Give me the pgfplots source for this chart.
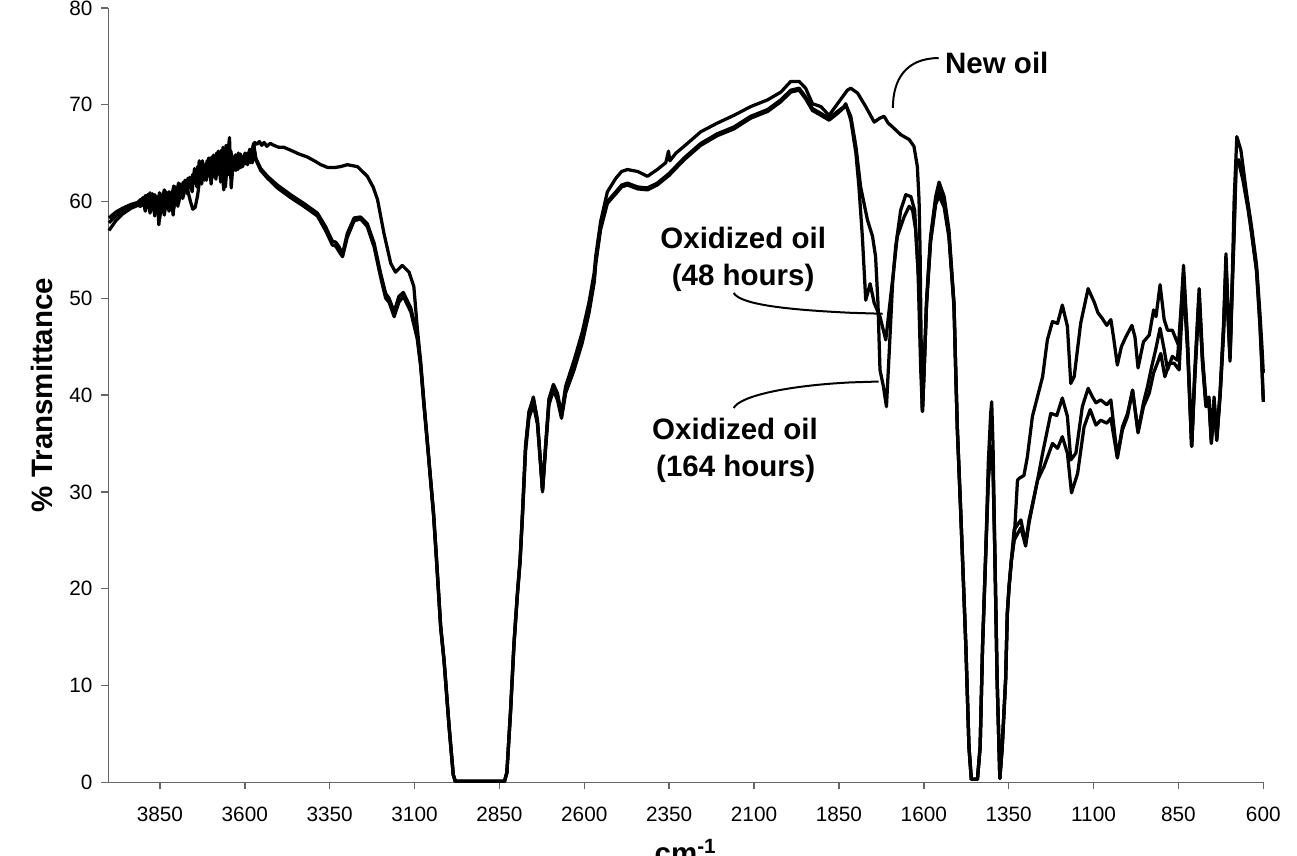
\documentclass[border=0pt]{standalone}
\usepackage{fontspec}
\setmainfont{Liberation Sans}
\usepackage{pgfplots}
\pgfplotsset{compat=1.18}
\begin{document}
\begin{tikzpicture}
\begin{axis}[
  scale only axis, width=462pt, height=309.76pt,
  xmin=600, xmax=4002, ymin=0, ymax=80,
  x dir=reverse,
  axis x line*=bottom, axis y line*=left,
  axis line style={draw=black!60, line width=0.6pt},
  xtick={600,850,...,3850}, ytick={0,10,...,80},
  tick align=outside, major tick length=2.8pt,
  tick style={draw=black!60, line width=0.6pt},
  xticklabel style={yshift=-3.7pt},
  ticklabel style={font=\fontsize{8.3}{10}\selectfont},
  /pgf/number format/1000 sep={},
  /pgf/number format/assume math mode=true,
  xlabel={cm\textsuperscript{-1}},
  xlabel style={at={(axis description cs:0.5,-0.1055)}, anchor=base, font=\bfseries\fontsize{11.8}{14}\selectfont},
  ylabel={\% Transmittance},
  ylabel style={at={(axis description cs:-0.0574,0.5)}, anchor=center, font=\bfseries\fontsize{11.8}{14}\selectfont},
  clip=false,
]
% New oil
\addplot[black, line width=1.3pt, line join=round, no markers] coordinates {
(4000,58.3) (3980,58.9) (3960,59.3) (3935,59.7) (3915,59.9)
(3907,60.2) (3900,59.6) (3893,60.6) (3886,59.8) (3879,60.9) (3872,59.9) (3865,60.7) (3858,59.6) (3851,60.9) (3844,60.1) (3837,61.2) (3830,60.3) (3823,61.0) (3816,60.4) (3809,61.6) (3802,60.7) (3795,61.9) (3788,61.0) (3781,62.0) (3774,61.3) (3767,62.4) (3760,61.7) (3753,62.8) (3746,62.0) (3739,63.6) (3732,62.6) (3725,64.2) (3718,63.0) (3711,63.8) (3704,62.9) (3697,64.3) (3690,63.1) (3683,64.9) (3676,63.4) (3669,65.3) (3662,63.6) (3655,65.8) (3648,63.8) (3641,65.2) (3634,63.6) (3627,64.8) (3620,63.9) (3613,64.9) (3606,64.1) (3599,65.0) (3592,64.4) (3585,65.4) (3578,64.7) (3571,66.1) (3564,65.9) (3557,66.2) (3550,65.8) (3543,66.1) (3535,65.7) (3525,66.0) (3514,65.8) (3500,65.6) (3485,65.6) (3465,65.3) (3440,64.9) (3416,64.6) (3395,64.2) (3376,63.8) (3355,63.5) (3337,63.5) (3318,63.6) (3298,63.8) (3268,63.6) (3239,62.6) (3222,61.5) (3209,60.2) (3190,56.7) (3170,53.6) (3156,52.7) (3136,53.4) (3116,52.7) (3102,51.2) (3092,47.0) (3082,43.5) (3072,39.2) (3061,34.7) (3044,27.8) (3036,23.5) (3023,16.1) (3013,12.6) (2998,5.7) (2986,0.8) (2980,0.1) (2835,0.1) (2828,1.0) (2817,7.5) (2807,14.4) (2797,19.5) (2789,23.0) (2782,27.8) (2773,34.7) (2763,38.3) (2750,39.6) (2738,37.4) (2728,32.6) (2723,30.2) (2714,34.7) (2704,39.6) (2691,41.1) (2679,40.2) (2667,38.0) (2655,40.9) (2630,43.6) (2606,46.5) (2586,49.6) (2571,52.6) (2566,54.4) (2552,57.9) (2532,61.0) (2507,62.4) (2490,63.1) (2473,63.3) (2443,63.1) (2414,62.6) (2385,63.3) (2360,64.0) (2352,65.2) (2348,64.2) (2330,65.0) (2306,65.7) (2257,67.2) (2208,68.1) (2159,68.9) (2110,69.8) (2060,70.5) (2021,71.3) (1992,72.4) (1967,72.4) (1948,71.7) (1928,70.1) (1903,69.8) (1879,68.9) (1854,70.1) (1825,71.5) (1815,71.7) (1795,71.2) (1771,69.8) (1746,68.2) (1730,68.6) (1717,68.8) (1705,68.1) (1692,67.7) (1668,66.9) (1643,66.4) (1629,65.7) (1619,63.6) (1614,60.2) (1611,55.0) (1608,46.0) (1604,38.3) (1599,42.6) (1592,49.5) (1587,52.6) (1580,56.4) (1565,60.5) (1555,62.0) (1540,60.5) (1526,57.1) (1511,49.5) (1506,42.6) (1501,36.4) (1491,27.8) (1476,14.0) (1467,3.7) (1460,0.3) (1442,0.3) (1434,3.7) (1427,14.0) (1417,24.3) (1410,33.0) (1403,38.1) (1400,39.3) (1396,34.7) (1391,24.3) (1384,10.6) (1376,0.4) (1369,3.7) (1359,10.6) (1354,17.5) (1349,20.2) (1342,23.0) (1334,25.0) (1324,31.2) (1319,31.4) (1305,31.7) (1295,33.6) (1280,37.8) (1250,41.9) (1236,45.7) (1221,47.6) (1206,47.4) (1192,49.3) (1177,47.1) (1167,41.2) (1157,41.9) (1138,47.4) (1116,51.0) (1098,49.6) (1087,48.5) (1074,47.9) (1061,47.2) (1049,47.8) (1040,45.7) (1030,43.1) (1018,45.0) (1005,46.0) (987,47.2) (978,46.0) (969,42.8) (953,45.5) (936,46.2) (923,48.8) (916,48.1) (904,51.4) (892,47.8) (882,46.7) (868,46.7) (848,45.0) (835,53.4) (823,45.7) (811,34.7) (802,42.3) (789,51.0) (779,44.0) (769,39.5) (760,39.8) (753,35.4) (745,39.8) (737,35.7) (727,40.5) (717,47.4) (710,54.6) (704,49.1) (698,44.0) (691,52.6) (686,60.0) (678,66.7) (666,65.3) (650,61.0) (635,57.5) (620,53.5) (610,48.5) (604,45.0) (600,42.3)
};
% Oxidized oil 48 hours
\addplot[black, line width=1.3pt, line join=round, no markers] coordinates {
(4000,57.8) (3980,58.5) (3960,59.0) (3935,59.5) (3915,59.8)
(3907,59.9) (3900,60.4) (3893,59.5) (3886,60.7) (3879,59.2) (3872,60.8) (3865,58.9) (3858,60.5) (3853,57.6) (3846,60.3) (3839,59.0) (3832,61.0) (3825,59.4) (3818,60.9) (3811,58.6) (3804,61.5) (3797,59.5) (3790,61.8) (3783,60.3) (3776,62.2) (3769,60.8) (3762,62.5) (3755,61.0) (3748,63.4) (3741,61.5) (3734,64.2) (3727,61.8) (3720,63.8) (3713,62.2) (3706,64.5) (3699,61.8) (3692,64.8) (3685,62.3) (3678,65.2) (3671,62.0) (3664,65.6) (3657,61.5) (3650,64.8) (3645,66.6) (3640,61.4) (3633,64.6) (3626,63.2) (3619,65.0) (3612,63.5) (3605,64.6) (3598,63.9) (3591,65.0) (3584,64.0) (3577,65.5) (3574,66.0) (3568,64.5) (3553,63.4) (3533,62.6) (3504,61.7) (3465,60.7) (3426,59.8) (3386,58.8) (3362,57.4) (3342,55.9) (3332,55.8) (3322,55.3) (3312,54.6) (3298,56.7) (3278,58.3) (3259,58.4) (3239,57.7) (3219,55.7) (3200,52.6) (3185,50.5) (3175,50.0) (3160,48.6) (3146,50.2) (3133,50.6) (3111,49.0) (3092,46.2) (3082,43.2) (3072,39.0) (3061,34.7) (3044,27.8) (3036,23.5) (3023,16.1) (3013,12.6) (2998,5.7) (2986,0.8) (2980,0.1) (2835,0.1) (2828,1.0) (2817,7.5) (2807,14.4) (2797,19.5) (2789,23.0) (2782,27.8) (2773,34.7) (2763,38.1) (2750,39.8) (2738,37.4) (2728,32.6) (2723,30.2) (2714,34.7) (2704,39.5) (2691,40.9) (2679,39.8) (2667,37.8) (2655,40.5) (2630,42.9) (2606,45.7) (2586,48.8) (2571,51.9) (2566,53.9) (2552,57.4) (2532,60.0) (2507,61.0) (2490,61.7) (2473,61.9) (2443,61.5) (2414,61.4) (2385,61.9) (2350,62.9) (2306,64.5) (2257,66.0) (2208,67.0) (2159,67.7) (2110,68.8) (2060,69.5) (2021,70.5) (1992,71.5) (1967,71.7) (1948,70.8) (1928,69.6) (1903,69.1) (1879,68.6) (1854,69.3) (1835,69.8) (1830,70.1) (1815,68.4) (1800,65.0) (1791,61.5) (1781,56.4) (1771,49.8) (1758,51.5) (1746,49.5) (1729,48.1) (1712,45.7) (1702,48.8) (1692,51.9) (1678,56.4) (1658,58.4) (1643,59.5) (1633,59.1) (1624,57.1) (1614,51.2) (1607,42.6) (1604,38.4) (1599,42.6) (1592,49.5) (1587,52.3) (1580,56.0) (1565,60.0) (1555,61.2) (1540,59.8) (1526,56.6) (1511,49.3) (1506,42.6) (1501,36.4) (1491,27.8) (1476,14.0) (1467,3.7) (1460,0.3) (1442,0.3) (1434,3.7) (1427,14.0) (1417,24.3) (1410,31.5) (1404,34.3) (1400,34.7) (1396,32.5) (1391,24.3) (1384,10.6) (1376,0.4) (1369,3.7) (1359,10.6) (1354,17.5) (1349,20.2) (1342,23.0) (1334,26.1) (1314,27.1) (1300,24.7) (1290,27.1) (1265,31.2) (1250,34.0) (1226,38.1) (1208,37.9) (1192,39.7) (1177,37.8) (1167,33.3) (1152,34.0) (1133,38.8) (1116,40.7) (1103,39.8) (1093,39.2) (1079,39.5) (1061,39.0) (1049,39.5) (1030,33.6) (1015,36.7) (1000,38.1) (985,40.5) (969,36.2) (953,39.2) (941,40.9) (929,42.9) (917,44.7) (904,46.9) (892,44.7) (882,42.6) (868,44.0) (853,43.6) (835,52.5) (823,45.0) (811,34.7) (802,42.0) (789,50.5) (779,43.5) (769,39.0) (760,39.5) (753,35.2) (745,39.4) (737,35.5) (727,40.2) (717,46.8) (710,53.5) (704,48.5) (698,43.8) (691,52.0) (686,57.0) (680,64.2) (672,64.3) (660,62.5) (645,59.5) (635,57.0) (620,53.0) (610,47.5) (604,43.0) (600,39.5)
};
% Oxidized oil 164 hours
\addplot[black, line width=1.3pt, line join=round, no markers] coordinates {
(4000,57.0) (3980,58.0) (3960,58.7) (3935,59.3) (3915,59.6)
(3907,59.5) (3900,60.2) (3893,59.0) (3886,60.4) (3879,58.8) (3872,60.2) (3865,58.5) (3858,59.8) (3851,58.2) (3844,59.9) (3837,58.6) (3830,60.3) (3823,59.0) (3816,60.6) (3809,59.3) (3802,61.0) (3795,59.8) (3788,61.2) (3781,60.5) (3774,61.6) (3767,61.0) (3760,60.0) (3753,59.2) (3746,59.4) (3739,60.6) (3732,62.5) (3725,63.5) (3718,62.2) (3711,64.2) (3704,62.6) (3697,64.6) (3690,62.5) (3683,65.0) (3676,62.8) (3669,64.4) (3662,61.2) (3655,64.0) (3648,62.8) (3641,64.5) (3634,63.2) (3627,64.8) (3620,63.3) (3613,64.5) (3606,63.6) (3599,64.9) (3592,63.8) (3585,64.8) (3578,64.0) (3571,65.2) (3566,64.2) (3553,63.2) (3533,62.4) (3504,61.4) (3465,60.4) (3426,59.5) (3386,58.5) (3362,57.0) (3342,55.5) (3332,55.4) (3322,54.8) (3312,54.3) (3298,56.3) (3278,58.0) (3259,58.2) (3239,57.4) (3219,55.3) (3200,52.2) (3185,50.0) (3175,49.6) (3160,48.1) (3146,49.6) (3133,50.2) (3111,48.6) (3092,45.8) (3082,43.0) (3072,38.8) (3061,34.5) (3044,27.6) (3036,23.3) (3023,16.0) (3013,12.5) (2998,5.6) (2986,0.8) (2980,0.1) (2835,0.1) (2828,1.0) (2817,7.3) (2807,14.2) (2797,19.3) (2789,22.8) (2782,27.5) (2773,34.2) (2763,37.6) (2750,39.0) (2738,37.0) (2728,32.4) (2723,30.0) (2714,34.4) (2704,39.0) (2691,40.5) (2679,39.5) (2667,37.6) (2655,40.2) (2630,42.6) (2606,45.4) (2586,48.5) (2571,51.6) (2566,53.6) (2552,57.1) (2532,59.8) (2507,60.8) (2490,61.5) (2473,61.7) (2443,61.3) (2414,61.2) (2385,61.7) (2350,62.7) (2306,64.3) (2257,65.8) (2208,66.8) (2159,67.5) (2110,68.6) (2060,69.3) (2021,70.3) (1992,71.3) (1967,71.5) (1948,70.6) (1928,69.4) (1903,68.9) (1879,68.4) (1854,69.1) (1835,69.7) (1830,70.0) (1815,68.8) (1800,65.7) (1786,61.5) (1766,58.1) (1751,56.4) (1742,54.3) (1735,49.5) (1729,42.6) (1719,40.9) (1710,38.8) (1702,44.3) (1692,51.5) (1683,55.3) (1668,59.1) (1653,60.7) (1638,60.5) (1627,59.1) (1617,52.9) (1609,42.6) (1604,38.3) (1599,42.6) (1592,49.3) (1587,52.0) (1580,55.8) (1565,59.7) (1555,60.6) (1540,59.4) (1526,56.3) (1511,49.1) (1506,42.4) (1501,36.2) (1491,27.6) (1476,13.9) (1467,3.6) (1460,0.3) (1442,0.3) (1434,3.6) (1427,13.8) (1417,24.0) (1410,31.0) (1404,34.0) (1400,34.4) (1396,32.0) (1391,24.0) (1384,10.5) (1376,0.4) (1369,3.6) (1359,10.5) (1354,17.3) (1349,20.0) (1342,22.8) (1334,25.0) (1314,26.3) (1300,24.4) (1290,26.8) (1265,31.2) (1246,32.6) (1221,35.0) (1206,34.5) (1192,35.7) (1177,34.0) (1165,29.9) (1147,31.9) (1128,36.7) (1110,38.5) (1093,36.9) (1079,37.4) (1061,37.1) (1049,37.6) (1030,33.5) (1015,36.4) (1000,37.8) (985,40.5) (969,36.1) (953,38.8) (936,40.2) (923,42.3) (912,43.3) (902,44.3) (890,41.9) (877,43.3) (863,43.3) (848,42.6) (835,51.5) (823,44.5) (811,34.7) (802,41.5) (789,50.0) (779,43.2) (769,38.8) (760,39.2) (753,35.0) (745,39.0) (737,35.3) (727,40.0) (717,46.3) (710,53.0) (704,48.0) (698,43.5) (691,51.5) (686,56.5) (680,63.8) (672,64.0) (660,62.2) (645,59.2) (635,56.8) (620,52.8) (610,47.2) (604,42.8) (600,39.3)
};
% annotations
\node[anchor=base, font=\bfseries\fontsize{11.8}{14}\selectfont] at (axis cs:1385,73.24) {New oil};
\draw[line width=0.8pt] (axis cs:1691,69.66) .. controls (axis cs:1691,72.6) and (axis cs:1653,74.8) .. (axis cs:1556,74.82);
\node[anchor=base, font=\bfseries\fontsize{11.8}{14}\selectfont] at (axis cs:2132,55.17) {Oxidized oil};
\node[anchor=base, font=\bfseries\fontsize{11.8}{14}\selectfont] at (axis cs:2132,51.37) {(48 hours)};
\draw[line width=0.8pt] (axis cs:2160,50.55) .. controls (axis cs:2139,49.3) and (axis cs:1992,48.8) .. (axis cs:1815,48.5) -- (axis cs:1721,48.4);
\node[anchor=base, font=\bfseries\fontsize{11.8}{14}\selectfont] at (axis cs:2156,35.36) {Oxidized oil};
\node[anchor=base, font=\bfseries\fontsize{11.8}{14}\selectfont] at (axis cs:2154,31.64) {(164 hours)};
\draw[line width=0.8pt] (axis cs:2160,38.67) .. controls (axis cs:2139,39.98) and (axis cs:1992,41.0) .. (axis cs:1815,41.31) -- (axis cs:1733,41.4);
\coordinate (bl) at (axis description cs:0,0);
\coordinate (tr) at (axis description cs:1,1);
\end{axis}
\pgfresetboundingbox
\path[use as bounding box] ([shift={(-43.32pt,-29.48pt)}]bl) rectangle ([shift={(13.48pt,3.16pt)}]tr);
\end{tikzpicture}
\end{document}
